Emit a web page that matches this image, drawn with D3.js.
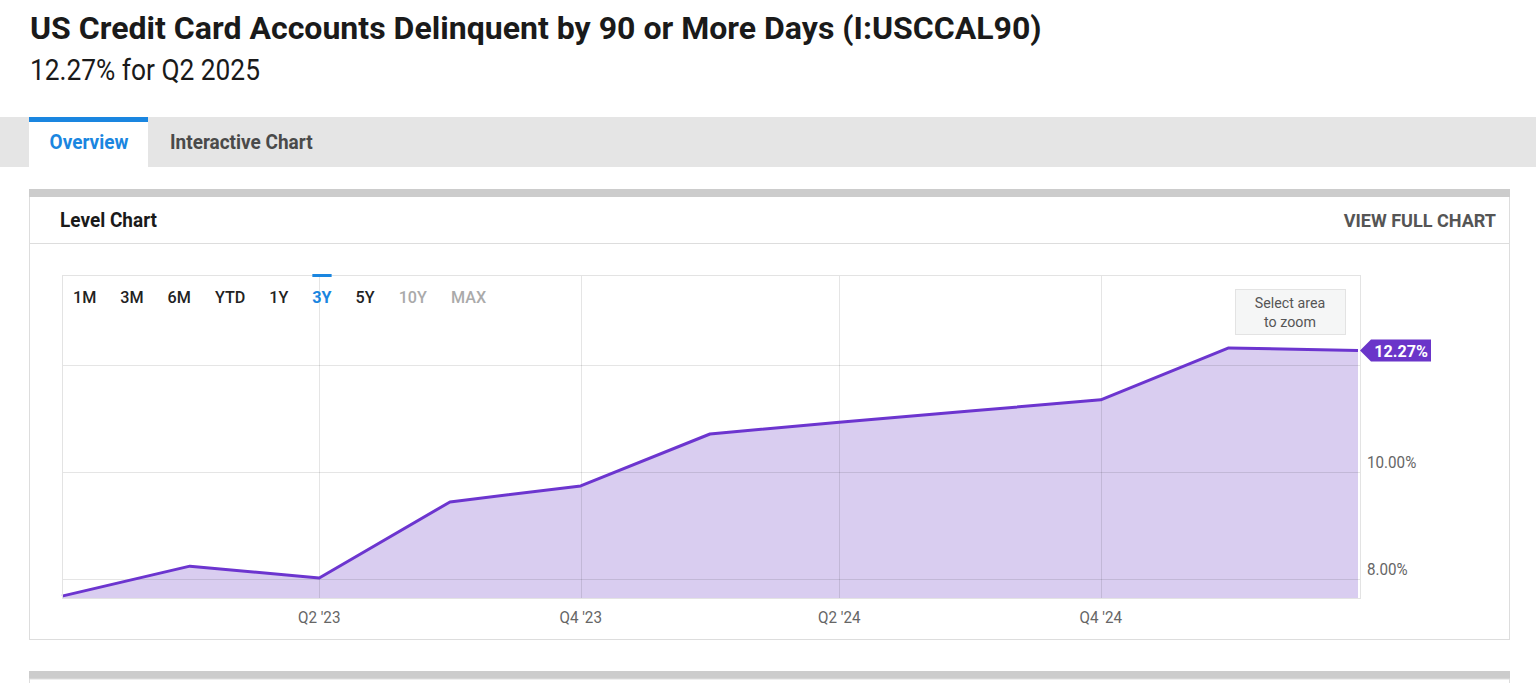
<!DOCTYPE html>
<html>
<head>
<meta charset="utf-8">
<script src="https://cdn.jsdelivr.net/npm/d3@7.9.0/dist/d3.min.js"></script>
<style>
  body { margin: 0; background: #fff; }
  svg text { font-family: Roboto, "Noto Sans", sans-serif; }
</style>
</head>
<body>
<svg id="chart"></svg>
<script>
// quarterly data (quarter end dates)
const quarters = ["2022-12-31", "2023-03-31", "2023-06-30", "2023-09-30", "2023-12-31",
  "2024-03-31", "2024-06-30", "2024-09-30", "2024-12-31", "2025-03-31", "2025-06-30"];
const values = [7.68, 8.24, 8.02, 9.44, 9.74, 10.71, 10.93, 11.14, 11.35, 12.32, 12.27];

const xTicks = ["2023-06-30", "2023-12-31", "2024-06-30", "2024-12-31"];
const xTickLabels = ["Q2 '23", "Q4 '23", "Q2 '24", "Q4 '24"];
const yGrid = [8, 10, 12];
const yTicks = [8, 10];
const ranges = ["1M", "3M", "6M", "YTD", "1Y", "3Y", "5Y", "10Y", "MAX"];
const activeRange = "3Y";
const disabledRanges = ["10Y", "MAX"];

const parse = d3.timeParse("%Y-%m-%d");
const data = quarters.map((q, i) => ({ date: parse(q), value: values[i] }));

const W = 1536, H = 683;
const K = 0.95; // horizontal squeeze to mimic a condensed face

const svg = d3.select('#chart').attr('width', W).attr('height', H);

function label(parent, x, y, str, size, weight, color, anchor) {
  return parent.append('text')
    .attr('transform', `translate(${x},${y}) scale(${K},1)`)
    .attr('text-anchor', anchor || 'start')
    .style('font-size', size + 'px')
    .style('font-weight', weight)
    .attr('fill', color)
    .text(str);
}

// fit a text to a given width (used for the big header lines)
function fitted(parent, x, y, str, size, weight, color, width) {
  let t = parent.append('text')
    .attr('x', 0).attr('y', 0)
    .style('font-size', size + 'px')
    .style('font-weight', weight)
    .attr('fill', color)
    .text(str);
  let len = t.node().getComputedTextLength();
  t.attr('transform', `translate(${x},${y}) scale(${width / len},1)`);
  return t;
}

// Header
fitted(svg, 30, 39, "US Credit Card Accounts Delinquent by 90 or More Days (I:USCCAL90)", 32, 700, '#1a1a1a', 1012);
fitted(svg, 30, 80, "12.27% for Q2 2025", 30, 400, '#1a1a1a', 230);

// Tabs
svg.append('rect').attr('x', 0).attr('y', 117).attr('width', W).attr('height', 50).attr('fill', '#e5e5e5');
svg.append('rect').attr('x', 29).attr('y', 117).attr('width', 119).attr('height', 50).attr('fill', '#fff');
svg.append('rect').attr('x', 29).attr('y', 117).attr('width', 119).attr('height', 5).attr('fill', '#1a86e0');
label(svg, 89, 149, "Overview", 20, 700, '#1a86e0', 'middle');
label(svg, 170, 149, "Interactive Chart", 20, 700, '#4a4a4a');

// Card
svg.append('rect').attr('x', 29.5).attr('y', 189.5).attr('width', 1480).attr('height', 450)
  .attr('fill', '#fff').attr('stroke', '#dddddd');
svg.append('rect').attr('x', 29).attr('y', 189).attr('width', 1481).attr('height', 8).attr('fill', '#cccccc');
svg.append('line').attr('x1', 30).attr('x2', 1510).attr('y1', 243.5).attr('y2', 243.5).attr('stroke', '#dddddd');
label(svg, 60, 227, "Level Chart", 20, 700, '#1a1a1a');
label(svg, 1496, 227, "VIEW FULL CHART", 19, 700, '#555555', 'end');

// next card peeking in at the bottom
svg.append('rect').attr('x', 29).attr('y', 671).attr('width', 1481).attr('height', 8).attr('fill', '#cccccc');
svg.append('rect').attr('x', 29.5).attr('y', 679).attr('width', 1480).attr('height', 10)
  .attr('fill', '#fff').attr('stroke', '#dddddd');

// Plot
const plot = { left: 62, right: 1360, top: 275, bottom: 598 };

const x = d3.scaleTime()
  .domain(d3.extent(data, d => d.date))
  .range([plot.left, plot.right - 2]);

const y = d3.scaleLinear()
  .domain([8, 10])
  .range([579, 472]);

let area = d3.area()
  .x(d => x(d.date))
  .y0(plot.bottom)
  .y1(d => y(d.value));

let line = d3.line()
  .x(d => x(d.date))
  .y(d => y(d.value));

svg.append('path').datum(data).attr('d', area).attr('fill', '#d9cdf0');

// gridlines
svg.append('g').selectAll('line').data(yGrid).join('line')
  .attr('x1', plot.left).attr('x2', plot.right)
  .attr('y1', d => Math.round(y(d)) + 0.5).attr('y2', d => Math.round(y(d)) + 0.5)
  .attr('stroke', 'rgba(0,0,0,0.1)');

svg.append('g').selectAll('line').data(xTicks).join('line')
  .attr('x1', d => Math.round(x(parse(d))) + 0.5).attr('x2', d => Math.round(x(parse(d))) + 0.5)
  .attr('y1', plot.top).attr('y2', plot.bottom)
  .attr('stroke', 'rgba(0,0,0,0.1)');

svg.append('path').datum(data).attr('d', line)
  .attr('fill', 'none').attr('stroke', '#6c35cf').attr('stroke-width', 3)
  .attr('stroke-linejoin', 'round');

svg.append('rect')
  .attr('x', plot.left + 0.5).attr('y', plot.top + 0.5)
  .attr('width', plot.right - plot.left).attr('height', plot.bottom - plot.top)
  .attr('fill', 'none').attr('stroke', '#e3e3e3');

// axis labels
xTicks.forEach((d, i) => {
  label(svg, x(parse(d)), 623, xTickLabels[i], 16, 400, '#666666', 'middle');
});
yTicks.forEach(d => {
  label(svg, 1367, y(d) - 4, d3.format('.2f')(d) + '%', 16, 400, '#666666');
});

// range buttons
let bx = 73;
ranges.forEach(r => {
  let color = r === activeRange ? '#1a86e0' : (disabledRanges.includes(r) ? '#aaaaaa' : '#222222');
  let t = label(svg, bx, 303, r, 17, r === activeRange ? 700 : 500, color);
  let w = t.node().getComputedTextLength() * K;
  if (r === activeRange) {
    svg.append('rect').attr('x', bx).attr('y', 274).attr('width', w).attr('height', 3).attr('fill', '#1a86e0');
  }
  bx += w + 24;
});

// "Select area to zoom" hint
svg.append('rect').attr('x', 1235.5).attr('y', 289.5).attr('width', 110).attr('height', 45)
  .attr('fill', '#f5f6f6').attr('stroke', '#e3e3e3');
label(svg, 1290, 308, "Select area", 15, 400, '#555555', 'middle');
label(svg, 1290, 327, "to zoom", 15, 400, '#555555', 'middle');

// last value tag
const last = data[data.length - 1];
const ty = y(last.value);
const tx = x(last.date) + 2;
svg.append('path')
  .attr('d', `M${tx},${ty} L${tx + 11},${ty - 11} L${tx + 71},${ty - 11} L${tx + 71},${ty + 11} L${tx + 11},${ty + 11} Z`)
  .attr('fill', '#6a35c9');
label(svg, tx + 41, ty + 6, d3.format('.2f')(last.value) + '%', 17, 700, '#ffffff', 'middle');
</script>
</body>
</html>
